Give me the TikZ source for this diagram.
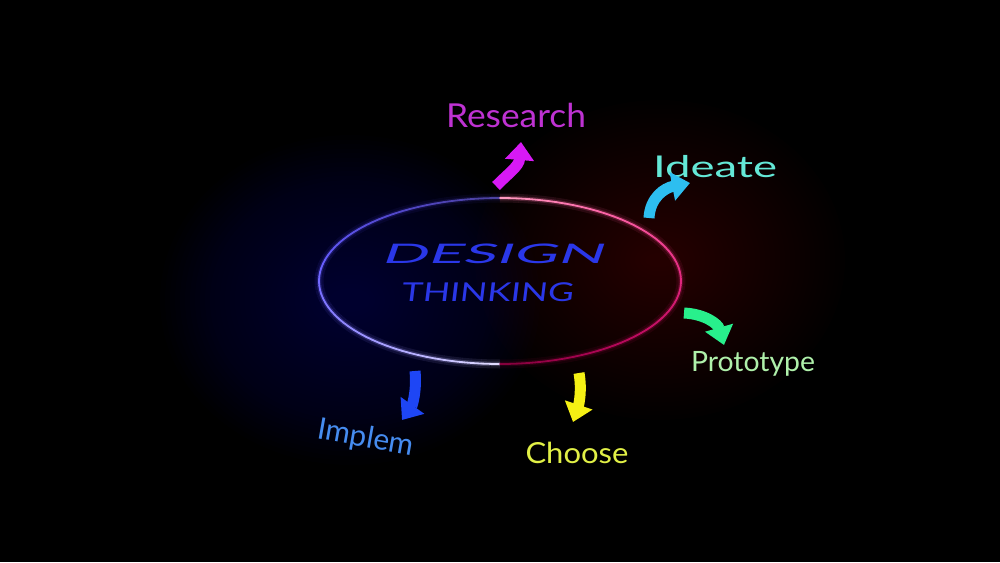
\documentclass[tikz,border=0pt]{standalone}
\usepackage{fontspec}
\setmainfont{Lato}
\usepackage{graphicx}
\usetikzlibrary{arrows.meta}
\definecolor{cResearch}{RGB}{190,50,210}
\definecolor{aResearch}{RGB}{215,25,245}
\definecolor{cIdeate}{RGB}{100,232,215}
\definecolor{aIdeate}{RGB}{45,190,240}
\definecolor{cProto}{RGB}{175,240,170}
\definecolor{aProto}{RGB}{40,240,140}
\definecolor{cChoose}{RGB}{225,240,70}
\definecolor{aChoose}{RGB}{245,240,20}
\definecolor{cImplem}{RGB}{70,140,240}
\definecolor{aImplem}{RGB}{30,70,245}
\definecolor{cTitle}{RGB}{42,55,232}
\definecolor{hazeblue}{RGB}{50,40,190}
\definecolor{hazered}{RGB}{170,10,65}
\tikzset{
  lbl/.style={anchor=base, inner sep=0pt},
  arr/.style={line width=11pt, -{Triangle[length=18pt,width=28pt]}},
}
\newcommand\fsz[1]{\fontsize{#1}{#1}\selectfont}
\begin{document}
\begin{tikzpicture}[x=1pt,y=-1pt]
\useasboundingbox (0,0) rectangle (1000,562);
\fill[black] (0,0) rectangle (1000,562);
% haze
\foreach \i in {0,...,34} {
  \fill[hazeblue, opacity=0.011] (350,300) ellipse [x radius={190pt-5pt*\i}, y radius={165pt-4.5pt*\i}];
  \fill[hazered, opacity=0.011] (660,260) ellipse [x radius={185pt-5pt*\i}, y radius={160pt-4.5pt*\i}];
}
% neon ellipse: blue half (left)
\foreach \t in {90,93,...,267} {
  \pgfmathsetmacro\f{(\t-90)/180}
  \pgfmathsetmacro\rr{0.22+0.63*\f*\f}
  \pgfmathsetmacro\gg{0.18+0.64*\f*\f}
  \pgfmathsetmacro\bb{min(1,0.55+0.9*\f)}
  \definecolor{segc}{rgb}{\rr,\gg,\bb}
  \draw[segc, line width=9pt, opacity=0.10] ({500+181*cos(\t)},{281-83*sin(\t)}) -- ({500+181*cos(\t+3)},{281-83*sin(\t+3)});
  \draw[segc, line width=4.5pt, opacity=0.22] ({500+181*cos(\t)},{281-83*sin(\t)}) -- ({500+181*cos(\t+3)},{281-83*sin(\t+3)});
}
\foreach \t in {90,93,...,267} {
  \pgfmathsetmacro\f{(\t-90)/180}
  \pgfmathsetmacro\rr{0.30+0.60*\f*\f}
  \pgfmathsetmacro\gg{0.26+0.62*\f*\f}
  \pgfmathsetmacro\bb{min(1,0.62+0.9*\f)}
  \definecolor{segc}{rgb}{\rr,\gg,\bb}
  \draw[segc, line width=1.8pt, line cap=round] ({500+181*cos(\t)},{281-83*sin(\t)}) -- ({500+181*cos(\t+3)},{281-83*sin(\t+3)});
}
% neon ellipse: red half (right)
\foreach \t in {90,87,...,-87} {
  \pgfmathsetmacro\f{(90-\t)/180}
  \pgfmathsetmacro\rr{1-0.55*\f*\f}
  \pgfmathsetmacro\gg{0.5*(1-\f)*(1-\f)}
  \pgfmathsetmacro\bb{0.70-0.52*\f}
  \definecolor{segc}{rgb}{\rr,\gg,\bb}
  \draw[segc, line width=9pt, opacity=0.10] ({500+181*cos(\t)},{281-83*sin(\t)}) -- ({500+181*cos(\t-3)},{281-83*sin(\t-3)});
  \draw[segc, line width=4.5pt, opacity=0.22] ({500+181*cos(\t)},{281-83*sin(\t)}) -- ({500+181*cos(\t-3)},{281-83*sin(\t-3)});
}
\foreach \t in {90,87,...,-87} {
  \pgfmathsetmacro\f{(90-\t)/180}
  \pgfmathsetmacro\rr{1-0.5*\f*\f}
  \pgfmathsetmacro\gg{0.6*(1-\f)*(1-\f)}
  \pgfmathsetmacro\bb{0.75-0.52*\f}
  \definecolor{segc}{rgb}{\rr,\gg,\bb}
  \draw[segc, line width=1.8pt, line cap=round] ({500+181*cos(\t)},{281-83*sin(\t)}) -- ({500+181*cos(\t-3)},{281-83*sin(\t-3)});
}
% title
\node[lbl, text=cTitle, xslant=0.35, transform shape] (design) at (492,263) {\fsz{27}\resizebox{222pt}{\height}{DESIGN}};
\node[lbl, text=cTitle, xslant=0.12, transform shape] (thinking) at (487,301) {\fsz{26}\resizebox{172pt}{\height}{THINKING}};
% labels
\node[lbl, text=cResearch] (research) at (516,127) {\fsz{33}\resizebox{140pt}{\height}{Research}};
\node[lbl, text=cIdeate] (ideate) at (715,177) {\fsz{30}\resizebox{124pt}{\height}{Ideate}};
\node[lbl, text=cProto] (prototype) at (753,371) {\fsz{28}\resizebox{124pt}{\height}{Prototype}};
\node[lbl, text=cChoose] (choose) at (577,463) {\fsz{29}\resizebox{103pt}{\height}{Choose}};
\node[lbl, text=cImplem, rotate=-10] (implem) at (364,447) {\fsz{30}Implem};
% arrows
\coordinate (rT) at (496,186); \coordinate (rH) at (521,142);
\coordinate (iT) at (649,218); \coordinate (iH) at (690,183);
\coordinate (pT) at (684,313); \coordinate (pH) at (724,345);
\coordinate (cT) at (579,373); \coordinate (cH) at (573,422);
\coordinate (mT) at (415,371); \coordinate (mH) at (402,420);
\draw[arr, aResearch] (rT) .. controls (510,172) and (519,166) .. (rH);
\draw[arr, aIdeate] (iT) .. controls (650,198) and (664,188) .. (iH);
\draw[arr, aProto] (pT) .. controls (705,314) and (718,324) .. (pH);
\draw[arr, aChoose] (cT) .. controls (582,390) and (579,404) .. (cH);
\draw[arr, aImplem] (mT) .. controls (417,391) and (412,406) .. (mH);
\end{tikzpicture}
\end{document}
